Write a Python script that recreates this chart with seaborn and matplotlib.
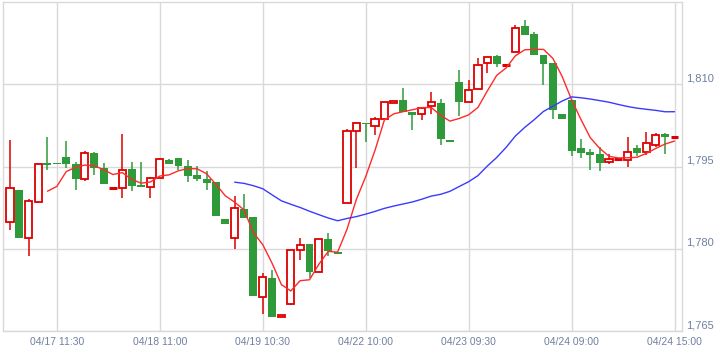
import numpy as np
import pandas as pd
import matplotlib
matplotlib.use('Agg')
import matplotlib.pyplot as plt
import matplotlib.transforms as mtransforms
import seaborn as sns

# OHLC, one candle per row (72 candles)
opens = [1784.9, 1790.8, 1781.9, 1788.5, 1795.7, 1795.7, 1796.8, 1795.4, 1792.8, 1797.4,
         1794.7, 1791.0, 1791.0, 1794.6, 1791.7, 1791.3, 1792.9, 1796.2, 1796.5, 1795.1,
         1793.4, 1792.8, 1792.1, 1785.5, 1781.9, 1787.3, 1785.7, 1771.2, 1774.6, 1767.5,
         1770.0, 1779.8, 1780.9, 1775.7, 1781.7, 1779.2, 1788.4, 1801.4, 1802.8, 1802.4,
         1803.7, 1806.6, 1807.1, 1805.0, 1804.5, 1806.0, 1806.5, 1799.6, 1810.4, 1806.8,
         1809.2, 1813.8, 1815.1, 1813.5, 1815.8, 1820.7, 1819.2, 1815.4, 1813.8, 1804.5,
         1807.1, 1798.3, 1797.6, 1797.3, 1795.8, 1796.4, 1796.2, 1798.3, 1797.6, 1799.0,
         1801.0, 1800.3]
highs = [1799.8, 1790.8, 1789.0, 1795.6, 1800.3, 1795.7, 1799.6, 1795.8, 1797.8, 1797.6,
         1795.7, 1791.0, 1801.0, 1795.9, 1795.8, 1793.0, 1796.6, 1796.3, 1796.5, 1796.2,
         1795.1, 1794.2, 1792.1, 1785.5, 1789.7, 1789.9, 1785.7, 1775.6, 1776.2, 1767.9,
         1779.8, 1782.0, 1780.9, 1781.8, 1782.9, 1779.2, 1801.8, 1803.1, 1803.0, 1804.0,
         1806.8, 1807.0, 1809.3, 1805.0, 1805.8, 1808.5, 1807.4, 1799.6, 1812.6, 1810.7,
         1814.8, 1815.0, 1815.3, 1813.5, 1820.8, 1821.7, 1819.6, 1815.4, 1813.8, 1804.5,
         1807.1, 1800.1, 1798.2, 1798.6, 1797.2, 1796.4, 1800.4, 1799.0, 1801.3, 1801.2,
         1801.2, 1800.3]
lows = [1783.5, 1781.9, 1778.7, 1788.4, 1794.3, 1795.4, 1794.7, 1790.7, 1792.4, 1793.5,
        1791.8, 1791.0, 1789.3, 1790.6, 1791.2, 1789.3, 1792.9, 1795.5, 1794.4, 1792.2,
        1792.3, 1790.7, 1785.9, 1784.6, 1779.9, 1785.6, 1771.3, 1768.1, 1767.6, 1767.5,
        1769.8, 1777.9, 1774.6, 1775.7, 1778.7, 1779.0, 1788.4, 1794.8, 1799.4, 1800.8,
        1803.7, 1806.6, 1804.9, 1801.7, 1803.4, 1804.5, 1799.0, 1799.5, 1804.3, 1806.8,
        1809.2, 1812.1, 1813.1, 1813.5, 1815.8, 1819.0, 1815.4, 1809.9, 1803.7, 1803.6,
        1796.9, 1796.6, 1794.4, 1794.2, 1795.4, 1796.4, 1795.0, 1796.9, 1797.1, 1798.6,
        1797.3, 1800.3]
closes = [1791.1, 1781.9, 1788.7, 1795.5, 1795.3, 1795.4, 1795.4, 1792.7, 1797.5, 1794.7,
          1791.8, 1791.0, 1794.4, 1791.4, 1791.2, 1792.9, 1796.4, 1795.5, 1795.1, 1793.2,
          1792.7, 1791.9, 1785.9, 1784.6, 1787.4, 1785.6, 1771.3, 1774.9, 1767.6, 1767.9,
          1779.8, 1780.7, 1775.7, 1781.8, 1779.6, 1779.1, 1801.4, 1802.9, 1802.7, 1803.7,
          1806.7, 1807.0, 1804.9, 1804.4, 1805.7, 1806.8, 1800.0, 1799.5, 1806.8, 1809.0,
          1813.6, 1815.0, 1813.7, 1813.5, 1820.2, 1819.0, 1815.4, 1813.7, 1805.3, 1803.6,
          1797.9, 1797.4, 1797.1, 1795.6, 1796.3, 1796.4, 1797.6, 1797.5, 1799.2, 1800.8,
          1800.4, 1800.3]

tick_pos = [5, 16, 27, 38, 49, 60, 71]
tick_labels = ['04/17 11:30', '04/18 11:00', '04/19 10:30', '04/22 10:00',
               '04/23 09:30', '04/24 09:00', '04/24 15:00']
y_ticks = [1765, 1780, 1795, 1810]

df = pd.DataFrame({'open': opens, 'high': highs, 'low': lows, 'close': closes})
df['idx'] = np.arange(len(df))
df['ma5'] = df['close'].rolling(5).mean()
df['ma25'] = df['close'].rolling(25).mean()

UP = '#dd0000'
DOWN = '#2f9a3a'
GRID = '#d9d9d9'
LABEL = '#7080a0'

sns.set_style('white')
plt.rcParams['font.family'] = ['Liberation Sans', 'DejaVu Sans']

fig = plt.figure(figsize=(7.21, 3.57), dpi=100)
ax = fig.add_axes([3 / 721, 1 - 331 / 357, 679 / 721, 329 / 357])

up = df['close'] >= df['open']
bw = 0.85

# wicks
ax.vlines(df['idx'][up], df['low'][up], df['high'][up], color=UP, lw=1.1, zorder=2)
ax.vlines(df['idx'][~up], df['low'][~up], df['high'][~up], color=DOWN, lw=1.1, zorder=2)

# bodies
body = (df['close'] - df['open']).abs()
flat = body < 0.05
u = up & ~flat
d = ~up & ~flat
ax.bar(df['idx'][u], body[u], bottom=df['open'][u], width=bw * 0.9,
       facecolor='white', edgecolor=UP, linewidth=1.3, zorder=3)
ax.bar(df['idx'][d], np.maximum(body[d], 0.3), bottom=df['close'][d], width=bw,
       color=DOWN, linewidth=0, zorder=3)
ax.hlines(df['close'][flat], df['idx'][flat] - bw / 2, df['idx'][flat] + bw / 2,
          color=UP, lw=2.2, zorder=3)

# moving averages
sns.lineplot(data=df, x='idx', y='ma5', ax=ax, color='#ff2a2a', lw=1.0, zorder=4)
sns.lineplot(data=df, x='idx', y='ma25', ax=ax, color='#3a3aff', lw=1.0, zorder=4)

ax.set_xlim(-0.75, 71.8)
ax.set_ylim(1765, 1825)
ax.set_xlabel('')
ax.set_ylabel('')

ax.set_xticks(tick_pos)
ax.set_xticklabels(tick_labels)
ax.set_yticks(y_ticks)
ax.set_yticklabels([f'{v:,}' for v in y_ticks])
ax.yaxis.tick_right()
ax.tick_params(axis='both', length=0, labelsize=7.5, colors=LABEL)
ax.tick_params(axis='y', labelsize=8, pad=3)
ax.tick_params(axis='x', pad=4)
offset = mtransforms.ScaledTranslation(0, 5 / 72, fig.dpi_scale_trans)
for lab in ax.get_yticklabels():
    lab.set_transform(lab.get_transform() + offset)

ax.grid(True, color=GRID, lw=1, zorder=0)
ax.set_axisbelow(True)
for s in ax.spines.values():
    s.set_visible(True)
    s.set_color(GRID)
    s.set_linewidth(1)

fig.savefig('out.png', dpi=100)
